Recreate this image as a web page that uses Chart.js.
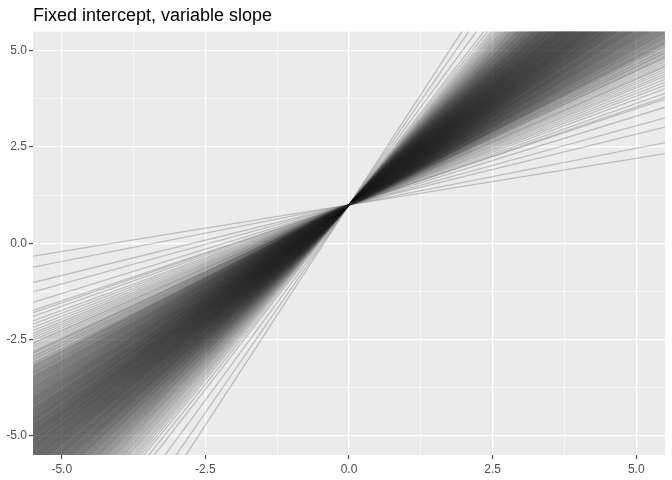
<!DOCTYPE html>
<html>
<head>
<meta charset="utf-8">
<script src="https://cdn.jsdelivr.net/npm/chart.js@4/dist/chart.umd.min.js"></script>
<style>
  html, body { margin: 0; padding: 0; background: #fff; }
  #wrap { position: relative; width: 672px; height: 480px; }
</style>
</head>
<body>
<div id="wrap"><canvas id="slopeChart"></canvas></div>
<script>
// lines y = intercept + slope * x, one per slope
var intercept = 1;
var slopes = [
  0.242, 0.294, 0.367, 0.411, 0.461, 0.499,
  0.509, 0.527, 0.548, 0.564, 0.579, 0.593,
  0.607, 0.618, 0.629, 0.640, 0.651,
  0.656, 0.665, 0.674, 0.683, 0.692, 0.696, 0.701,
  0.706, 0.713, 0.717, 0.721, 0.728, 0.732, 0.736, 0.743, 0.747, 0.751,
  0.756, 0.759, 0.762, 0.765, 0.768, 0.771, 0.774, 0.777, 0.781, 0.784, 0.787, 0.790, 0.793, 0.796, 0.799, 0.802,
  0.806, 0.809, 0.811, 0.814, 0.816, 0.819, 0.822, 0.824, 0.827, 0.829, 0.832, 0.835, 0.837, 0.840, 0.842, 0.845, 0.848, 0.850, 0.853,
  0.856, 0.858, 0.861, 0.863, 0.865, 0.868, 0.870, 0.872, 0.875, 0.877, 0.879, 0.882, 0.884, 0.886, 0.889, 0.891, 0.893, 0.896, 0.898, 0.900, 0.903,
  0.906, 0.908, 0.910, 0.912, 0.914, 0.916, 0.919, 0.921, 0.923, 0.925, 0.927, 0.929, 0.931, 0.933, 0.936, 0.938, 0.940, 0.942, 0.944, 0.946, 0.948, 0.951, 0.953,
  0.956, 0.958, 0.960, 0.962, 0.964, 0.966, 0.968, 0.970, 0.972, 0.974, 0.976, 0.978, 0.980, 0.982, 0.984, 0.986, 0.988, 0.990, 0.992, 0.994, 0.996, 0.998, 1.000, 1.002, 1.004,
  1.006, 1.008, 1.010, 1.012, 1.014, 1.015, 1.017, 1.019, 1.021, 1.023, 1.025, 1.027, 1.029, 1.031, 1.033, 1.035, 1.037, 1.039, 1.041, 1.043, 1.045, 1.046, 1.048, 1.050, 1.052, 1.054,
  1.056, 1.058, 1.060, 1.062, 1.064, 1.065, 1.067, 1.069, 1.071, 1.073, 1.075, 1.076, 1.078, 1.080, 1.082, 1.084, 1.085, 1.087, 1.089, 1.091, 1.093, 1.095, 1.096, 1.098, 1.100, 1.102, 1.104,
  1.106, 1.108, 1.110, 1.112, 1.114, 1.115, 1.117, 1.119, 1.121, 1.123, 1.125, 1.127, 1.129, 1.131, 1.133, 1.135, 1.137, 1.139, 1.141, 1.143, 1.145, 1.146, 1.148, 1.150, 1.152, 1.154,
  1.156, 1.158, 1.160, 1.162, 1.164, 1.166, 1.168, 1.170, 1.172, 1.174, 1.176, 1.178, 1.180, 1.182, 1.184, 1.186, 1.188, 1.190, 1.192, 1.194, 1.196, 1.198, 1.200, 1.202, 1.204,
  1.206, 1.208, 1.210, 1.212, 1.214, 1.216, 1.219, 1.221, 1.223, 1.225, 1.227, 1.229, 1.231, 1.233, 1.236, 1.238, 1.240, 1.242, 1.244, 1.246, 1.248, 1.251, 1.253,
  1.256, 1.258, 1.261, 1.263, 1.265, 1.268, 1.270, 1.272, 1.275, 1.277, 1.279, 1.282, 1.284, 1.286, 1.289, 1.291, 1.293, 1.296, 1.298, 1.300, 1.303,
  1.306, 1.309, 1.311, 1.314, 1.316, 1.319, 1.322, 1.324, 1.327, 1.329, 1.332, 1.335, 1.337, 1.340, 1.342, 1.345, 1.348, 1.350, 1.353,
  1.356, 1.359, 1.362, 1.365, 1.368, 1.371, 1.374, 1.377, 1.381, 1.384, 1.387, 1.390, 1.393, 1.396, 1.399, 1.402,
  1.406, 1.409, 1.413, 1.417, 1.421, 1.424, 1.428, 1.432, 1.436, 1.439, 1.443, 1.447, 1.451,
  1.456, 1.460, 1.465, 1.469, 1.474, 1.478, 1.483, 1.487, 1.492, 1.496, 1.501,
  1.507, 1.512, 1.518, 1.523, 1.529, 1.534, 1.540, 1.546, 1.551,
  1.559, 1.566, 1.573, 1.581, 1.588, 1.595, 1.602,
  1.612, 1.621, 1.630, 1.642, 1.651, 1.661, 1.674, 1.687, 1.698,
  1.714, 1.732, 1.749, 1.769, 1.793, 1.822, 1.866, 1.918, 2.030, 2.160, 2.290
];

var majorTicks = [-5, -2.5, 0, 2.5, 5];
var majorLabels = ['-5.0', '-2.5', '0.0', '2.5', '5.0'];
var minorTicks = [-3.75, -1.25, 1.25, 3.75];
var axisMin = -5.5, axisMax = 5.5;

var lineColor = 'rgba(40,40,40,0.24)';

var datasets = slopes.map(function (s) {
  return {
    data: [
      { x: axisMin, y: intercept + s * axisMin },
      { x: axisMax, y: intercept + s * axisMax }
    ],
    showLine: true,
    borderColor: lineColor,
    borderWidth: 1.3,
    pointRadius: 0,
    fill: false
  };
});

function isMinor(v) { return minorTicks.indexOf(v) !== -1; }

function ggAxis(side) {
  return {
    type: 'linear',
    min: axisMin,
    max: axisMax,
    afterBuildTicks: function (scale) {
      scale.ticks = majorTicks.concat(minorTicks)
        .sort(function (a, b) { return a - b; })
        .map(function (v) { return { value: v }; });
    },
    afterFit: function (scale) {
      if (side === 'y') scale.width = 33;
      else scale.height = 25;
    },
    border: { display: false },
    grid: {
      color: '#ffffff',
      lineWidth: function (ctx) { return ctx.tick && isMinor(ctx.tick.value) ? 0.6 : 1.2; },
      tickColor: function (ctx) { return ctx.tick && isMinor(ctx.tick.value) ? 'rgba(0,0,0,0)' : '#333333'; },
      tickLength: 4,
      tickWidth: 1
    },
    ticks: {
      autoSkip: false,
      maxRotation: 0,
      padding: side === 'y' ? 2 : 3,
      color: '#4d4d4d',
      font: { family: 'Liberation Sans, Arial, sans-serif', size: 12 },
      callback: function (value) {
        var i = majorTicks.indexOf(value);
        return i === -1 ? '' : majorLabels[i];
      }
    }
  };
}

// grey panel behind the grid
var panelBg = {
  id: 'panelBg',
  beforeDraw: function (chart) {
    var a = chart.chartArea, ctx = chart.ctx;
    ctx.save();
    ctx.fillStyle = '#ebebeb';
    ctx.fillRect(a.left, a.top, a.right - a.left, a.bottom - a.top);
    ctx.restore();
  }
};

new Chart(document.getElementById('slopeChart').getContext('2d'), {
  type: 'scatter',
  data: { datasets: datasets },
  options: {
    responsive: true,
    maintainAspectRatio: false,
    devicePixelRatio: 1,
    animation: false,
    events: [],
    layout: { padding: { left: 0, right: 7, top: 0, bottom: 0 } },
    plugins: {
      legend: { display: false },
      tooltip: { enabled: false },
      title: {
        display: true,
        text: 'Fixed intercept, variable slope',
        align: 'start',
        fullSize: false,
        color: '#000000',
        font: { family: 'Liberation Sans, Arial, sans-serif', size: 18, weight: 'normal', lineHeight: 1.2 },
        padding: { top: 5, bottom: 5 }
      }
    },
    scales: {
      x: ggAxis('x'),
      y: ggAxis('y')
    }
  },
  plugins: [panelBg]
});
</script>
</body>
</html>
